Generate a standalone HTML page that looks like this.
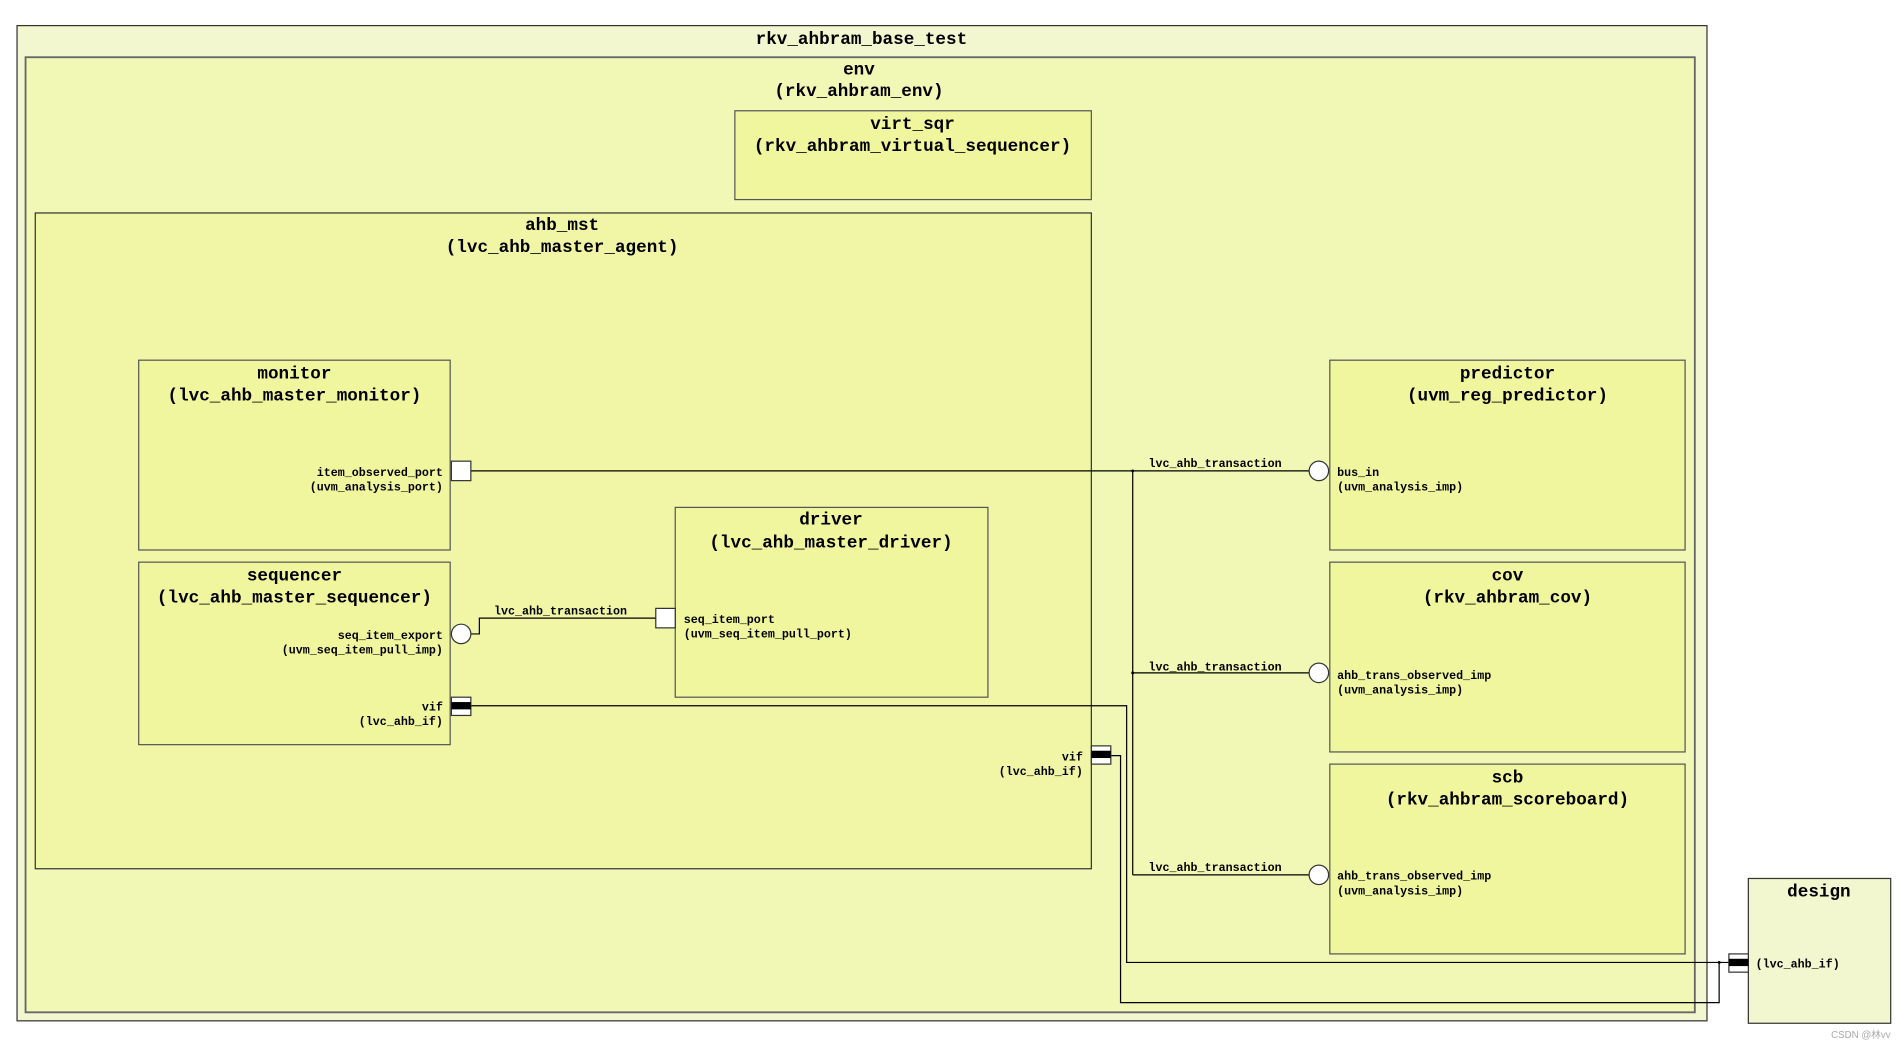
<!DOCTYPE html>
<html><head><meta charset="utf-8"><style>
html,body{margin:0;padding:0;background:#fff;}
svg{display:block;}
text{font-family:"Liberation Mono","DejaVu Sans Mono",monospace;fill:#000;}
.t{font-size:14.5px;font-weight:bold;text-anchor:middle;}
.s{font-size:9.6px;font-weight:bold;}
.r{text-anchor:end;}
.box{fill:#f0f69e;stroke:#555;stroke-width:1;}
.ln{fill:none;stroke:#000;stroke-width:1;}
</style></head><body>
<svg width="1898" height="1044" viewBox="0 0 1560 858" xmlns="http://www.w3.org/2000/svg">
<rect x="14" y="21" width="1389" height="818" fill="#f3f7cf" stroke="#333" stroke-width="1"/>
<text class="t" x="708" y="36">rkv_ahbram_base_test</text>
<rect x="21" y="47" width="1372" height="785" fill="#f1f7b5" stroke="#666" stroke-width="1.5"/>
<text class="t" x="706" y="61">env</text>
<text class="t" x="706" y="79">(rkv_ahbram_env)</text>
<rect class="box" x="604" y="91" width="293" height="73"/>
<text class="t" x="750" y="106">virt_sqr</text>
<text class="t" x="750" y="124">(rkv_ahbram_virtual_sequencer)</text>
<rect x="29" y="175" width="868" height="539" fill="#f0f6a6" stroke="#333" stroke-width="1"/>
<text class="t" x="462" y="189">ahb_mst</text>
<text class="t" x="462" y="207">(lvc_ahb_master_agent)</text>
<rect class="box" x="114" y="296" width="256" height="156"/>
<text class="t" x="242" y="311">monitor</text>
<text class="t" x="242" y="329">(lvc_ahb_master_monitor)</text>
<text class="s r" x="364" y="391">item_observed_port</text>
<text class="s r" x="364" y="403">(uvm_analysis_port)</text>
<rect class="box" x="114" y="462" width="256" height="150"/>
<text class="t" x="242" y="477">sequencer</text>
<text class="t" x="242" y="495">(lvc_ahb_master_sequencer)</text>
<text class="s r" x="364" y="525">seq_item_export</text>
<text class="s r" x="364" y="537">(uvm_seq_item_pull_imp)</text>
<text class="s r" x="364" y="584">vif</text>
<text class="s r" x="364" y="596">(lvc_ahb_if)</text>
<rect class="box" x="555" y="417" width="257" height="156"/>
<text class="t" x="683" y="431">driver</text>
<text class="t" x="683" y="450">(lvc_ahb_master_driver)</text>
<text class="s" x="562" y="512">seq_item_port</text>
<text class="s" x="562" y="524">(uvm_seq_item_pull_port)</text>
<rect class="box" x="1093" y="296" width="292" height="156"/>
<text class="t" x="1239" y="311">predictor</text>
<text class="t" x="1239" y="329">(uvm_reg_predictor)</text>
<text class="s" x="1099" y="391">bus_in</text>
<text class="s" x="1099" y="403">(uvm_analysis_imp)</text>
<rect class="box" x="1093" y="462" width="292" height="156"/>
<text class="t" x="1239" y="477">cov</text>
<text class="t" x="1239" y="495">(rkv_ahbram_cov)</text>
<text class="s" x="1099" y="558">ahb_trans_observed_imp</text>
<text class="s" x="1099" y="570">(uvm_analysis_imp)</text>
<rect class="box" x="1093" y="628" width="292" height="156"/>
<text class="t" x="1239" y="643">scb</text>
<text class="t" x="1239" y="661">(rkv_ahbram_scoreboard)</text>
<text class="s" x="1099" y="723">ahb_trans_observed_imp</text>
<text class="s" x="1099" y="735">(uvm_analysis_imp)</text>
<text class="s r" x="890" y="625">vif</text>
<text class="s r" x="890" y="637">(lvc_ahb_if)</text>
<rect x="1437" y="722" width="117" height="119" fill="#f3f7cf" stroke="#333" stroke-width="1"/>
<text class="t" x="1495" y="737">design</text>
<text class="s" x="1443" y="795">(lvc_ahb_if)</text>
<!-- connections -->
<path class="ln" d="M387 387 H1076 M931 387 V719 M931 553 H1076 M931 719 H1076"/>
<circle cx="931" cy="387" r="1.2"/><circle cx="931" cy="553" r="1.2"/>
<text class="s" x="944" y="384">lvc_ahb_transaction</text>
<text class="s" x="944" y="551">lvc_ahb_transaction</text>
<text class="s" x="944" y="716">lvc_ahb_transaction</text>
<path class="ln" d="M387 521 H394 V508 H539"/>
<text class="s" x="406" y="505">lvc_ahb_transaction</text>
<path class="ln" d="M387 580 H926 V791 H1421"/>
<path class="ln" d="M913 621 H921 V824 H1413 V791"/>
<circle cx="1413" cy="791" r="1.2"/>
<!-- ports -->
<rect x="371" y="379" width="16" height="16" fill="#fff" stroke="#333"/>
<rect x="539" y="500" width="16" height="16" fill="#fff" stroke="#333"/>
<circle cx="379" cy="521" r="8" fill="#fff" stroke="#333"/>
<circle cx="1084" cy="387" r="8" fill="#fff" stroke="#333"/>
<circle cx="1084" cy="553" r="8" fill="#fff" stroke="#333"/>
<circle cx="1084" cy="719" r="8" fill="#fff" stroke="#333"/>
<rect x="371" y="573" width="16" height="15" fill="#fff" stroke="#333"/><rect x="371" y="577" width="16" height="6" fill="#000"/>
<rect x="897" y="613" width="16" height="15" fill="#fff" stroke="#333"/><rect x="897" y="617" width="16" height="6" fill="#000"/>
<rect x="1421" y="784" width="16" height="15" fill="#fff" stroke="#333"/><rect x="1421" y="788" width="16" height="6" fill="#000"/>
<text x="1505" y="853" style="font-size:8px;fill:#aaa;font-family:'Liberation Sans',sans-serif">CSDN @林vv</text>
</svg>
</body></html>
